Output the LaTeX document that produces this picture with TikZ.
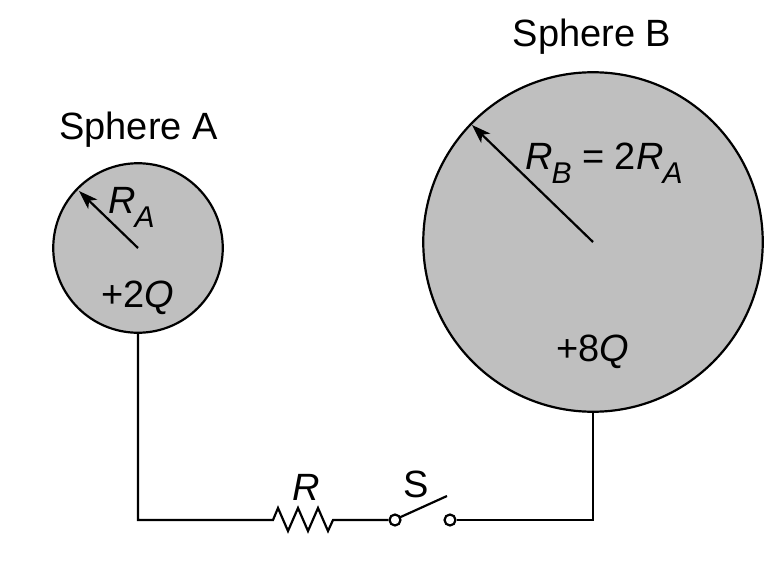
\documentclass[tikz,border=0pt]{standalone}
\usepackage{fontspec}
\setmainfont{Liberation Sans}
\usetikzlibrary{arrows.meta}
\newcommand{\subs}[1]{\raisebox{-13.5pt}{\fontsize{30}{30}\selectfont\itshape #1}}
\tikzset{
  sphere/.style={circle,draw=black,fill=sphgray,line width=2.2pt,inner sep=0pt},
  wire/.style={draw=black,line width=2.2pt,line join=miter},
  radius/.style={draw=black,line width=2.2pt,-{Stealth[length=19pt,width=13pt,inset=5pt]}},
  lab/.style={inner sep=0pt,font=\fontsize{38}{38}\selectfont,anchor=base},
  terminal/.style={circle,draw=black,fill=white,line width=2.2pt,minimum size=11pt,inner sep=0pt}
}
\definecolor{sphgray}{gray}{0.75}
\begin{document}
\begin{tikzpicture}[x=1pt,y=-1pt]
\useasboundingbox (0,0) rectangle (768,572);
\node[sphere,minimum size=169.5pt] (A) at (138,248) {};
\node[sphere,minimum size=339.5pt] (B) at (593,242) {};
\coordinate (ac) at (138,248);
\coordinate (bc) at (593,242);
\coordinate (atip) at (79,191);
\coordinate (btip) at (472,125);
\draw[radius] (ac) -- (atip);
\draw[radius] (bc) -- (btip);
\node[lab] (la) at (138.5,140) {Sphere A};
\node[lab] (lb) at (592,47) {Sphere B};
\node[lab,anchor=base west] (ra) at (108,214) {\itshape R\kern-1pt\subs{A}};
\node[lab,anchor=base west] (rb) at (525,170) {{\itshape R}\kern-1pt\subs{B} = 2{\itshape R}\kern-1pt\subs{A}};
\node[lab] (qa) at (138,307) {+2{\itshape Q}};
\node[lab] (qb) at (593,361) {+8{\itshape Q}};
\node[lab] (lr) at (306,500) {\itshape R};
\node[lab] (ls) at (416,497) {S};
\node[terminal] (t1) at (395,520) {};
\node[terminal] (t2) at (450,520) {};
\coordinate (corA) at (138,520);
\coordinate (corB) at (593,520);
\coordinate (rl) at (273,520);
\coordinate (rr) at (333,520);
\coordinate (swtip) at (447,496);
\draw[wire] (A.south) -- (corA) -- (rl) -- (278,508) -- (288,531) -- (298,508) -- (308,531) -- (318,508) -- (328,531) -- (rr) -- (t1.west);
\draw[wire] (t2.east) -- (corB) -- (B.south);
\draw[wire] (t1) ++(5,-2.7) -- (swtip);
\end{tikzpicture}
\end{document}
